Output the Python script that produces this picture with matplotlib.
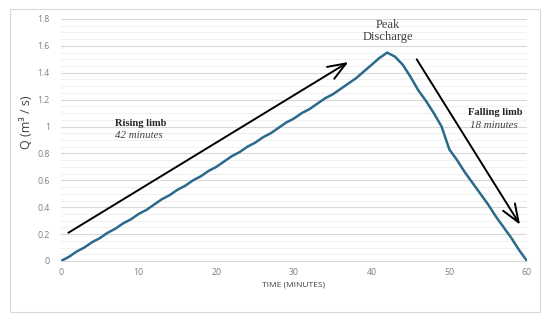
import matplotlib
matplotlib.use("Agg")
import matplotlib.pyplot as plt
from matplotlib.patches import Rectangle

time_min = list(range(0, 61))
discharge = [0.00, 0.03, 0.07, 0.10, 0.14, 0.17, 0.21, 0.24, 0.28, 0.31,
             0.35, 0.38, 0.42, 0.46, 0.49, 0.53, 0.56, 0.60, 0.63, 0.67,
             0.70, 0.74, 0.78, 0.81, 0.85, 0.88, 0.92, 0.95, 0.99, 1.03,
             1.06, 1.10, 1.13, 1.17, 1.21, 1.24, 1.28, 1.32, 1.36, 1.41,
             1.46, 1.51, 1.55, 1.52, 1.46, 1.37, 1.27, 1.19, 1.10, 1.00,
             0.83, 0.75, 0.66, 0.58, 0.50, 0.42, 0.33, 0.25, 0.17, 0.08,
             0.00]
x_ticks = [0, 10, 20, 30, 40, 50, 60]
y_ticks = [0, 0.2, 0.4, 0.6, 0.8, 1, 1.2, 1.4, 1.6, 1.8]
y_tick_labels = ["0", "0.2", "0.4", "0.6", "0.8", "1", "1.2", "1.4", "1.6", "1.8"]
rise_arrow = [(0.95, 0.21), (37.0, 1.48)]
fall_arrow = [(45.8, 1.50), (59.1, 0.27)]

fig = plt.figure(figsize=(5.5, 3.22), dpi=100)
fig.patch.set_facecolor("white")
fig.add_artist(Rectangle((10/550, 1-312/322), 530/550, 303/322, transform=fig.transFigure,
                         fill=False, edgecolor="#d9d9d9", linewidth=0.8))

ax = fig.add_axes([61/550, 1-261/322, 466/550, 242/322])
ax.set_xlim(0, 60)
ax.set_ylim(0, 1.8)

minor = [i*0.05 for i in range(37)]
for m in minor:
    if abs(round(m/0.2) - m/0.2) > 1e-6:
        ax.axhline(m, color="#f0f0f0", lw=0.7, zorder=0)
for t in y_ticks[1:]:
    ax.axhline(t, color="#d9d9d9", lw=0.8, zorder=0)

ax.plot(time_min, discharge, color="#2b6a8c", lw=1.8, zorder=3, solid_joinstyle="round")

for (s, e) in (rise_arrow, fall_arrow):
    ax.annotate("", xy=e, xytext=s,
                arrowprops=dict(arrowstyle="->,head_length=1.3,head_width=0.5",
                                color="black", lw=1.4, shrinkA=0, shrinkB=0), zorder=4)

for sp in ["top", "right", "left"]:
    ax.spines[sp].set_visible(False)
ax.spines["bottom"].set_color("#d9d9d9")
ax.spines["bottom"].set_linewidth(0.8)

ax.set_xticks(x_ticks)
ax.set_yticks(y_ticks)
ax.set_yticklabels(y_tick_labels)
ax.tick_params(axis="both", length=0, labelsize=6.3, labelcolor="#7f7f7f", pad=8,
               labelfontfamily="Open Sans")
ax.tick_params(axis="x", pad=5)

ax.set_xlabel("TIME (MINUTES)", fontsize=6, color="#404040", family="Open Sans", labelpad=3)
fig.text(27/550, 1-122/322, "Q (m\u00b3 / s)", rotation=90, ha="center", va="center",
         fontsize=9, color="#404040", family="Open Sans")

serif = "Liberation Serif"
fig.text(388/550, 1-31/322, "Peak\nDischarge", ha="center", va="center", fontsize=9,
         family=serif, color="#404040", linespacing=1.0)
fig.text(115/550, 1-123/322, "Rising limb", ha="left", va="center", fontsize=7.6,
         family=serif, fontweight="bold", color="#262626")
fig.text(115/550, 1-136/322, "42 minutes", ha="left", va="center", fontsize=7.8,
         family=serif, style="italic", color="#404040")
fig.text(468/550, 1-113/322, "Falling limb", ha="left", va="center", fontsize=7.6,
         family=serif, fontweight="bold", color="#262626")
fig.text(470/550, 1-125/322, "18 minutes", ha="left", va="center", fontsize=7.8,
         family=serif, style="italic", color="#404040")

fig.savefig("out.png", dpi=100)
